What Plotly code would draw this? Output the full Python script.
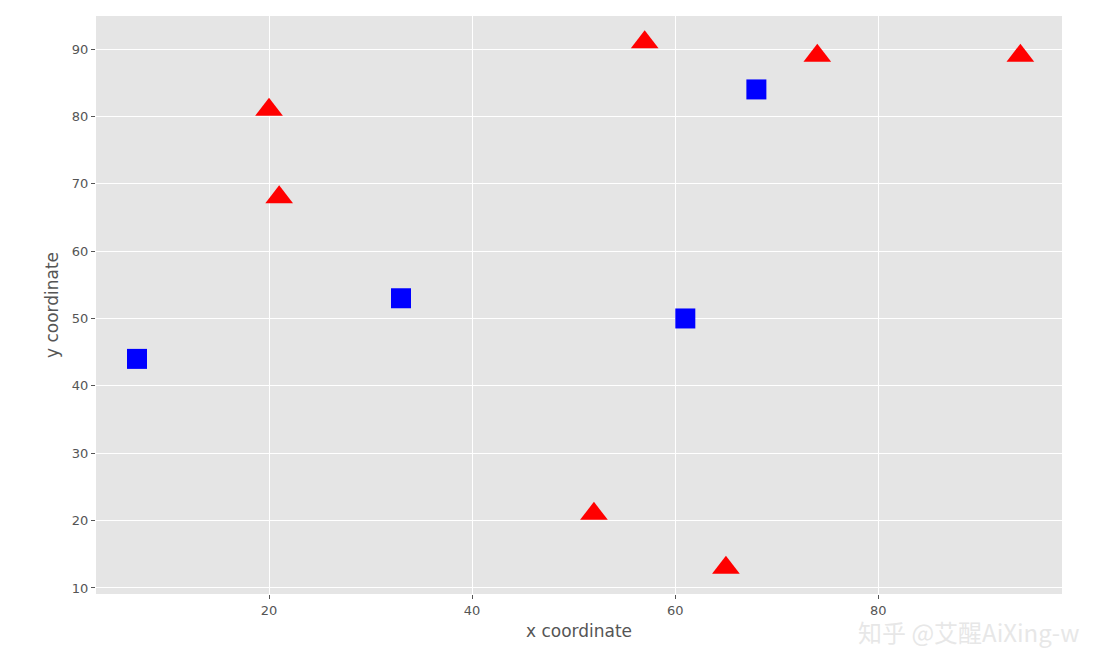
import plotly.graph_objects as go

blue_x = [7, 33, 61, 68]
blue_y = [44, 53, 50, 84]
red_x = [20, 21, 57, 74, 94, 52, 65]
red_y = [81, 68, 91, 89, 89, 21, 13]

fig = go.Figure()
fig.add_trace(go.Scatter(x=blue_x, y=blue_y, mode="markers",
                         marker=dict(symbol="square", size=20, color="blue")))
fig.add_trace(go.Scatter(x=red_x, y=red_y, mode="markers",
                         marker=dict(symbol="triangle-up", size=24, color="red")))
ax = dict(showgrid=True, gridcolor="white", gridwidth=1, zeroline=False,
          ticks="outside", ticklen=4, tickcolor="#555",
          tickfont=dict(size=13, color="#555"), showline=False)
fig.update_layout(
    width=1113, height=672, showlegend=False,
    paper_bgcolor="white", plot_bgcolor="#E5E5E5",
    margin=dict(l=88, r=59, t=8, b=86),
    font=dict(family="DejaVu Sans"),
    xaxis=dict(range=[2.96, 98.1], tickvals=[20, 40, 60, 80],
               title=dict(text="x coordinate", font=dict(size=17, color="#555"), standoff=8), **ax),
    yaxis=dict(range=[9.1, 94.9], tickvals=[10, 20, 30, 40, 50, 60, 70, 80, 90],
               title=dict(text="y coordinate", font=dict(size=17, color="#555"), standoff=8), **ax),
)
fig.add_annotation(x=1.02, y=-0.065, xref="paper", yref="paper", xanchor="right", yanchor="middle",
                   text="知乎 @艾醒AiXing-w", showarrow=False,
                   font=dict(size=24, color="rgba(230,230,230,0.95)", family="Noto Sans CJK SC"))
fig.write_html("out.html")
